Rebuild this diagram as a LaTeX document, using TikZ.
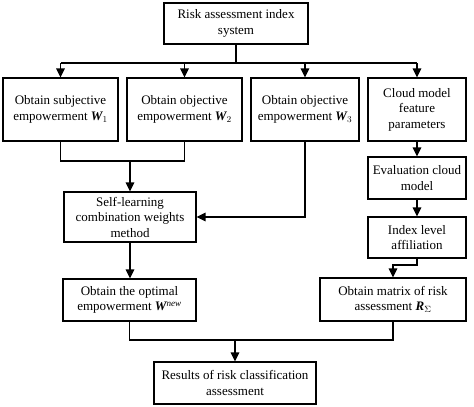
\documentclass[tikz,border=0pt]{standalone}
\usepackage{fontspec}
\setmainfont{Liberation Serif}
\usetikzlibrary{arrows.meta}
\newcommand{\bivar}[1]{{\bfseries\itshape #1}}
\begin{document}
\begin{tikzpicture}[x=1pt,y=-1pt,
  box/.style={draw=black,line width=1.1pt,rectangle,align=center,inner sep=1pt,
    font=\fontsize{13}{15.5}\selectfont},
  conn/.style={line width=1.3pt,draw=black},
  arr/.style={conn,-{Triangle[width=8.5pt,length=9pt]}}]
\useasboundingbox (0,0) rectangle (474,407);
\node[box,minimum width=144pt,minimum height=41pt] (top) at (236,23.5) {Risk assessment index\\system};
\node[box,minimum width=115pt,minimum height=63pt] (b1) at (60.5,109.5) {Obtain subjective\\empowerment \bivar{W}$_{1}$};
\node[box,minimum width=115pt,minimum height=63pt] (b2) at (184.5,109.5) {Obtain objective\\empowerment \bivar{W}$_{2}$};
\node[box,minimum width=108pt,minimum height=63pt] (b3) at (305,109.5) {Obtain objective\\empowerment \bivar{W}$_{3}$};
\node[box,minimum width=98pt,minimum height=63pt] (b4) at (417,109.5) {Cloud model\\feature\\parameters};
\node[box,minimum width=98pt,minimum height=42pt] (ev) at (417,178) {Evaluation cloud\\model};
\node[box,minimum width=98pt,minimum height=41pt] (ix) at (417,237.5) {Index level\\affiliation};
\node[box,minimum width=132pt,minimum height=50pt] (sl) at (130,217) {Self-learning\\combination weights\\method};
\node[box,minimum width=133pt,minimum height=42pt] (op) at (129.5,300) {Obtain the optimal\\empowerment \bivar{W}\textsuperscript{\itshape new}};
\node[box,minimum width=146pt,minimum height=43pt] (mx) at (393,299.5) {Obtain matrix of risk\\assessment \bivar{R}$_{\Sigma}$};
\node[box,minimum width=162pt,minimum height=42pt] (rs) at (235,383) {Results of risk classification\\assessment};
\coordinate (hy) at (0,63);
% top fan-out
\draw[conn] (top.south) -- (top.south |- hy);
\draw[conn] (b1.north |- hy) -- (b4.north |- hy);
\foreach \b in {b1,b2,b3,b4} \draw[arr] (\b.north |- hy) -- (\b.north);
% b1,b2 -> sl
\coordinate (jy) at (0,161);
\draw[conn] (b1.south) -- (b1.south |- jy) -- (b2.south |- jy) -- (b2.south);
\draw[arr] (sl.north |- jy) -- (sl.north);
% b3 -> sl
\draw[arr] (b3.south) -- (b3.south |- sl.east) -- (sl.east);
% right column
\draw[arr] (b4.south) -- (ev.north);
\draw[arr] (ev.south) -- (ix.north);
\coordinate (ky) at (0,265);
\draw[arr] (ix.south) -- (ix.south |- ky) -- (mx.north |- ky) -- (mx.north);
% sl -> op
\draw[arr] (sl.south) -- (sl.south |- op.north);
% bottom merge
\coordinate (my) at (0,340);
\draw[conn] (op.south) -- (op.south |- my) -- (mx.south |- my) -- (mx.south);
\draw[arr] (rs.north |- my) -- (rs.north);
\end{tikzpicture}
\end{document}
